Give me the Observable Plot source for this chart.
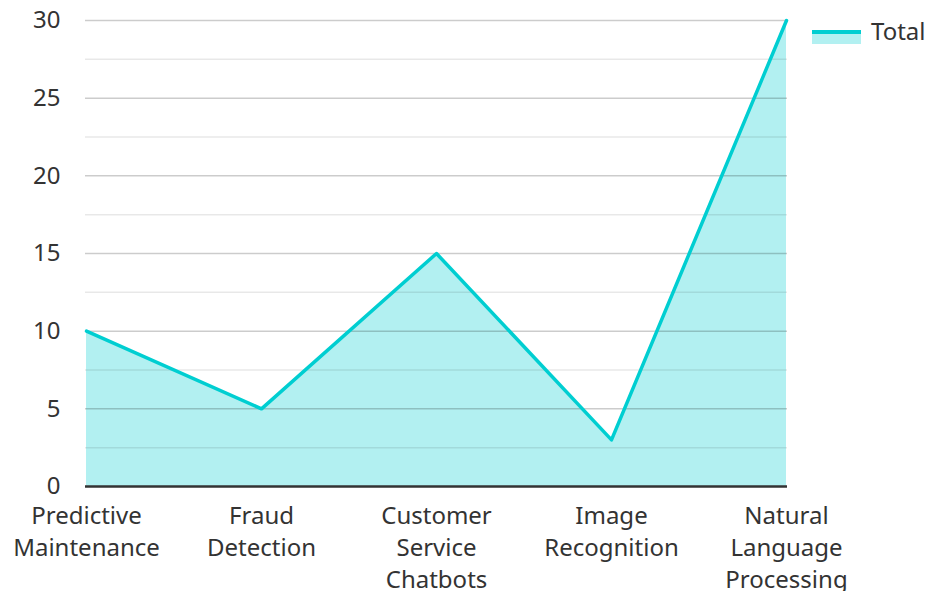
<!DOCTYPE html>
<html>
<head>
<meta charset="utf-8">
<script src="https://cdn.jsdelivr.net/npm/d3@7"></script>
<script src="https://cdn.jsdelivr.net/npm/@observablehq/plot@0.6"></script>
<style>
  html, body { margin: 0; padding: 0; background: #fff; }
  #wrap { position: relative; width: 928px; height: 591px; font-family: "Noto Sans", sans-serif; }
  #legend { position: absolute; left: 812px; top: 14px; height: 34px; font-size: 24px; color: #333; }
  #legend .fill { position: absolute; left: 0; top: 19px; width: 49px; height: 11px; background: rgba(0,206,209,0.3); }
  #legend .ln { position: absolute; left: 0; top: 16px; width: 49px; height: 3.5px; background: #00CED1; }
  #legend span { position: absolute; left: 59px; top: 0px; line-height: 34px; white-space: nowrap; }
</style>
</head>
<body>
<div id="wrap">
  <div id="legend"><div class="fill"></div><div class="ln"></div><span>Total</span></div>
</div>
<script>
const categories = ["Predictive Maintenance", "Fraud Detection", "Customer Service Chatbots", "Image Recognition", "Natural Language Processing"];
const tickLabels = ["Predictive\nMaintenance", "Fraud\nDetection", "Customer\nService\nChatbots", "Image\nRecognition", "Natural\nLanguage\nProcessing"];
const totals = [10, 5, 15, 3, 30];
const majorTicks = [0, 5, 10, 15, 20, 25, 30];
const minorTicks = [2.5, 7.5, 12.5, 17.5, 22.5, 27.5];

const data = categories.map((c, i) => ({category: c, value: totals[i]}));
const color = "#00CED1";

const chart = Plot.plot({
  width: 928,
  height: 591,
  marginLeft: 85,
  marginRight: 141,
  marginTop: 20,
  marginBottom: 105,
  style: {fontFamily: "'Noto Sans', sans-serif", fontSize: "24px", color: "#333", background: "transparent"},
  x: {type: "point", domain: categories, padding: 0},
  y: {domain: [0, 30]},
  marks: [
    Plot.areaY(data, {x: "category", y: "value", fill: color, fillOpacity: 0.3}),
    Plot.ruleY(minorTicks, {stroke: "#000", strokeOpacity: 0.09, strokeWidth: 1.5}),
    Plot.ruleY(majorTicks.filter(d => d > 0), {stroke: "#000", strokeOpacity: 0.2, strokeWidth: 1.5}),
    Plot.lineY(data, {x: "category", y: "value", stroke: color, strokeWidth: 3.5}),
    Plot.ruleY([0], {stroke: "#333", strokeWidth: 2.5}),
    Plot.axisY({ticks: majorTicks, tickSize: 0, tickPadding: 25, fontSize: 24, label: null, fill: "#333"}),
    Plot.axisX({tickSize: 0, tickPadding: 15, fontSize: 24, label: null, lineHeight: 1.33, fill: "#333",
      tickFormat: d => tickLabels[categories.indexOf(d)]})
  ]
});
document.getElementById("wrap").prepend(chart);
chart.style.position = "absolute";
chart.style.left = "0";
chart.style.top = "0";
</script>
</body>
</html>
